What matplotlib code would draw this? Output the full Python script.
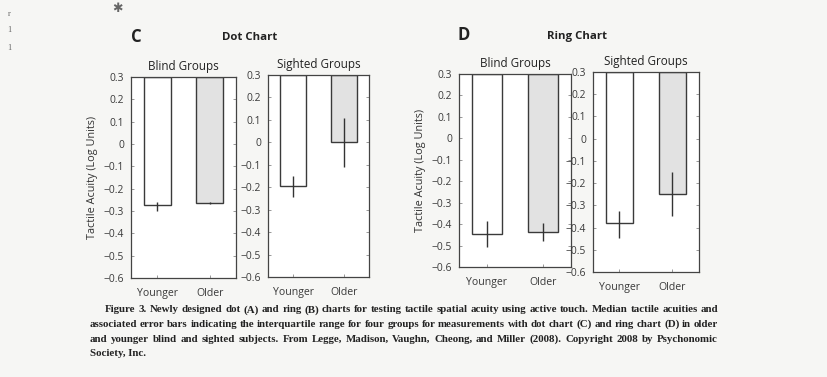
import numpy as np
import matplotlib
matplotlib.use('Agg')
import matplotlib.pyplot as plt

CATEGORIES = ['Younger', 'Older']
Y_TICKS = [0.3, 0.2, 0.1, 0, -0.1, -0.2, -0.3, -0.4, -0.5, -0.6]
Y_TICK_LABELS = ['0.3', '0.2', '0.1', '0', '\u22120.1', '\u22120.2', '\u22120.3',
                 '\u22120.4', '\u22120.5', '\u22120.6']

# medians and interquartile ranges (low, high)
DOT_BLIND = [-0.275, -0.265]
DOT_BLIND_LO = [-0.30, -0.27]
DOT_BLIND_HI = [-0.26, -0.26]

DOT_SIGHTED = [-0.195, 0.0]
DOT_SIGHTED_LO = [-0.245, -0.11]
DOT_SIGHTED_HI = [-0.15, 0.11]

RING_BLIND = [-0.445, -0.435]
RING_BLIND_LO = [-0.505, -0.48]
RING_BLIND_HI = [-0.385, -0.395]

RING_SIGHTED = [-0.38, -0.25]
RING_SIGHTED_LO = [-0.445, -0.35]
RING_SIGHTED_HI = [-0.325, -0.15]

CAPTION = [
	'Figure 3. Newly designed dot (A) and ring (B) charts for testing tactile spatial acuity using active touch. Median tactile acuities and',
	'associated error bars indicating the interquartile range for four groups for measurements with dot chart (C) and ring chart (D) in older',
	'and younger blind and sighted subjects. From Legge, Madison, Vaughn, Cheong, and Miller (2008). Copyright 2008 by Psychonomic',
	'Society, Inc.',
]

W, H = 828, 377
BG = '#f6f6f4'
SANS = 'Open Sans'
SERIF = 'Liberation Serif'

fig = plt.figure(figsize=(W / 100, H / 100), dpi=100)
fig.patch.set_facecolor(BG)


def px_axes(left, top, right, bottom):
	return fig.add_axes([left / W, 1 - bottom / H, (right - left) / W, (bottom - top) / H])


def panel(box, vals, lo, hi, title, ylabel=False):
	ax = px_axes(*box)
	ax.set_facecolor('white')
	x = np.arange(1, len(vals) + 1)
	top = 0.3
	ax.bar(x, np.array(vals) - top, bottom=top, width=0.52,
		color=['white', '#e2e2e2'], edgecolor='#3a3a3a', linewidth=1.0, zorder=2)
	ax.vlines(x, lo, hi, color='#333333', linewidth=1.0, zorder=3)
	ax.set_xlim(0.5, 2.5)
	ax.set_ylim(-0.6, 0.3)
	ax.set_yticks(Y_TICKS)
	ax.set_yticklabels(Y_TICK_LABELS)
	ax.set_xticks(x)
	ax.set_xticklabels(CATEGORIES)
	ax.tick_params(axis='both', direction='in', length=2.5, width=0.6, color='#888888',
		labelsize=7.4, labelcolor='#3a3a3a', top=True, right=True)
	ax.tick_params(axis='y', pad=5)
	ax.tick_params(axis='x', pad=7, labelsize=7.6)
	for lab in ax.get_xticklabels() + ax.get_yticklabels():
		lab.set_family(SANS)
	for s in ax.spines.values():
		s.set_linewidth(0.9)
		s.set_color('#444444')
	ax.set_title(title, fontsize=8.4, family=SANS, color='#222222', pad=5)
	if ylabel:
		ax.set_ylabel('Tactile Acuity (Log Units)', fontsize=7.8, family=SANS,
			color='#333333', labelpad=4)
	return ax


panel((131, 77, 236, 278), DOT_BLIND, DOT_BLIND_LO, DOT_BLIND_HI, 'Blind Groups', True)
panel((268, 75, 369, 277), DOT_SIGHTED, DOT_SIGHTED_LO, DOT_SIGHTED_HI, 'Sighted Groups')
panel((459, 74, 571, 267), RING_BLIND, RING_BLIND_LO, RING_BLIND_HI, 'Blind Groups', True)
panel((593, 72, 699, 272), RING_SIGHTED, RING_SIGHTED_LO, RING_SIGHTED_HI, 'Sighted Groups')

# panel letters and chart names
fig.text(131 / W, 1 - 37 / H, 'C', fontsize=12, fontweight='bold', family=SANS,
	color='#222222', va='center')
fig.text(250 / W, 1 - 38 / H, 'Dot Chart', fontsize=8.2, fontweight='bold', family=SANS,
	color='#222222', ha='center', va='center')
fig.text(458 / W, 1 - 35 / H, 'D', fontsize=12, fontweight='bold', family=SANS,
	color='#222222', va='center')
fig.text(577 / W, 1 - 36 / H, 'Ring Chart', fontsize=8.2, fontweight='bold', family=SANS,
	color='#222222', ha='center', va='center')

# stray marks from the photographed page
fig.text(117 / W, 1 - 8 / H, '\u2731', fontsize=9, color='#666666', ha='center', va='center',
	family='DejaVu Sans')
for yy, ch in [(14, 'r'), (30, '1'), (48, '1')]:
	fig.text(9 / W, 1 - yy / H, ch, fontsize=6, color='#666666', ha='center', va='center',
		family='Liberation Serif')

# justified caption: pick the largest size that leaves a normal word gap
renderer = fig.canvas.get_renderer()
lines_y = [310, 324.5, 339, 353.5]
lefts = [105, 90, 90, 90]
right = 718


def word_widths(words, size):
	out = []
	for w in words:
		t = fig.text(0, 0, w, fontsize=size, fontweight='bold', family=SERIF)
		out.append(t.get_window_extent(renderer).width)
		t.remove()
	return out


size = 8.8
while size > 6:
	ok = True
	for i in range(len(CAPTION) - 1):
		words = CAPTION[i].split(' ')
		gap = (right - lefts[i] - sum(word_widths(words, size))) / (len(words) - 1)
		if gap < 2.6:
			ok = False
			break
	if ok:
		break
	size -= 0.1

for i, line in enumerate(CAPTION):
	y = 1 - lines_y[i] / H
	words = line.split(' ')
	if i == len(CAPTION) - 1:
		fig.text(lefts[i] / W, y, line, fontsize=size, fontweight='bold', family=SERIF,
			color='#222222', va='center')
		continue
	widths = word_widths(words, size)
	gap = (right - lefts[i] - sum(widths)) / (len(words) - 1)
	xpos = lefts[i]
	for w, wd in zip(words, widths):
		fig.text(xpos / W, y, w, fontsize=size, fontweight='bold', family=SERIF,
			color='#222222', va='center')
		xpos += wd + gap

fig.savefig('out.png', dpi=100, facecolor=fig.get_facecolor())
